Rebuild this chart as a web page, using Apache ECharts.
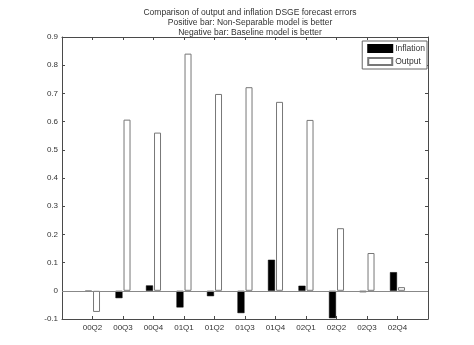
<!DOCTYPE html>
<html>
<head>
<meta charset="utf-8">
<script src="https://cdn.jsdelivr.net/npm/echarts@6/dist/echarts.min.js"></script>
<style>
html,body{margin:0;padding:0;background:#fff;}
#c{width:474px;height:345px;}
</style>
</head>
<body>
<div id="c"></div>
<script>
const categories = ['00Q2','00Q3','00Q4','01Q1','01Q2','01Q3','01Q4','02Q1','02Q2','02Q3','02Q4'];
const inflation = [-0.002, -0.026, 0.019, -0.059, -0.019, -0.079, 0.110, 0.018, -0.097, -0.005, 0.066];
const output = [-0.075, 0.607, 0.561, 0.841, 0.698, 0.722, 0.670, 0.606, 0.222, 0.134, 0.013];
const titleLines = ['Comparison of output and inflation DSGE forecast errors','Positive bar: Non-Separable model is better','Negative bar: Baseline model is better'];

const FONT = 'Liberation Sans';
const AX = '#4a4a4a';
const chart = echarts.init(document.getElementById('c'), null, {renderer:'canvas'});
const xBase = {
  type:'value', min:0, max:12, interval:1,
  axisLine:{show:true, onZero:false, lineStyle:{color:AX, width:1}},
  axisTick:{show:true, inside:true, length:3, lineStyle:{color:AX}},
  splitLine:{show:false}
};
const yBase = {
  type:'value', min:-0.1, max:0.9, interval:0.1,
  axisLine:{show:true, onZero:false, lineStyle:{color:AX, width:1}},
  axisTick:{show:true, inside:true, length:3, lineStyle:{color:AX}},
  splitLine:{show:false}
};
chart.setOption({
  backgroundColor:'#fff',
  animation:false,
  textStyle:{fontFamily:FONT},
  title:{
    text:titleLines.join('\n'),
    left:245, top:3, textAlign:'center',
    textStyle:{fontFamily:FONT, fontSize:8.5, fontWeight:'normal', color:'#333', lineHeight:10}
  },
  legend:{
    orient:'vertical', right:47, top:41,
    icon:'rect',
    itemWidth:24, itemHeight:7, itemGap:4,
    padding:[3,2,3,5],
    borderColor:'#666', borderWidth:1, backgroundColor:'#fff',
    textStyle:{fontFamily:FONT, fontSize:8.5, color:'#333', padding:[0,0,0,-2]},
    data:['Inflation','Output']
  },
  grid:{left:62, right:46, top:37, bottom:26, containLabel:false},
  xAxis:[
    Object.assign({}, xBase, {position:'bottom',
      axisLabel:{show:true, fontFamily:FONT, fontSize:8, color:'#333', margin:5,
        formatter:v => categories[v-1] || ''}}),
    Object.assign({}, xBase, {position:'top', axisLabel:{show:false}})
  ],
  yAxis:[
    Object.assign({}, yBase, {position:'left',
      axisLabel:{show:true, fontFamily:FONT, fontSize:8, color:'#333', margin:4,
        formatter:v => { const r = Math.round(v*10)/10; return r === 0 ? '0' : String(r); }}}),
    Object.assign({}, yBase, {position:'right', axisLabel:{show:false}})
  ],
  series:[
    {
      name:'Inflation', type:'bar', xAxisIndex:0, yAxisIndex:0,
      barWidth:7, barGap:'15%',
      itemStyle:{color:'#000', borderColor:'#000', borderWidth:0.5},
      data:categories.map((c,i)=>[i+1, inflation[i]]),
      markLine:{
        silent:true, symbol:'none', label:{show:false},
        lineStyle:{color:'#888', width:1, type:'solid'},
        data:[{yAxis:0}]
      },
      z:3
    },
    {
      name:'Output', type:'bar', xAxisIndex:0, yAxisIndex:0,
      barWidth:7, barGap:'15%',
      itemStyle:{color:'#fff', borderColor:'#777', borderWidth:1},
      data:categories.map((c,i)=>[i+1, output[i]]),
      z:3
    }
  ]
});
</script>
</body>
</html>
